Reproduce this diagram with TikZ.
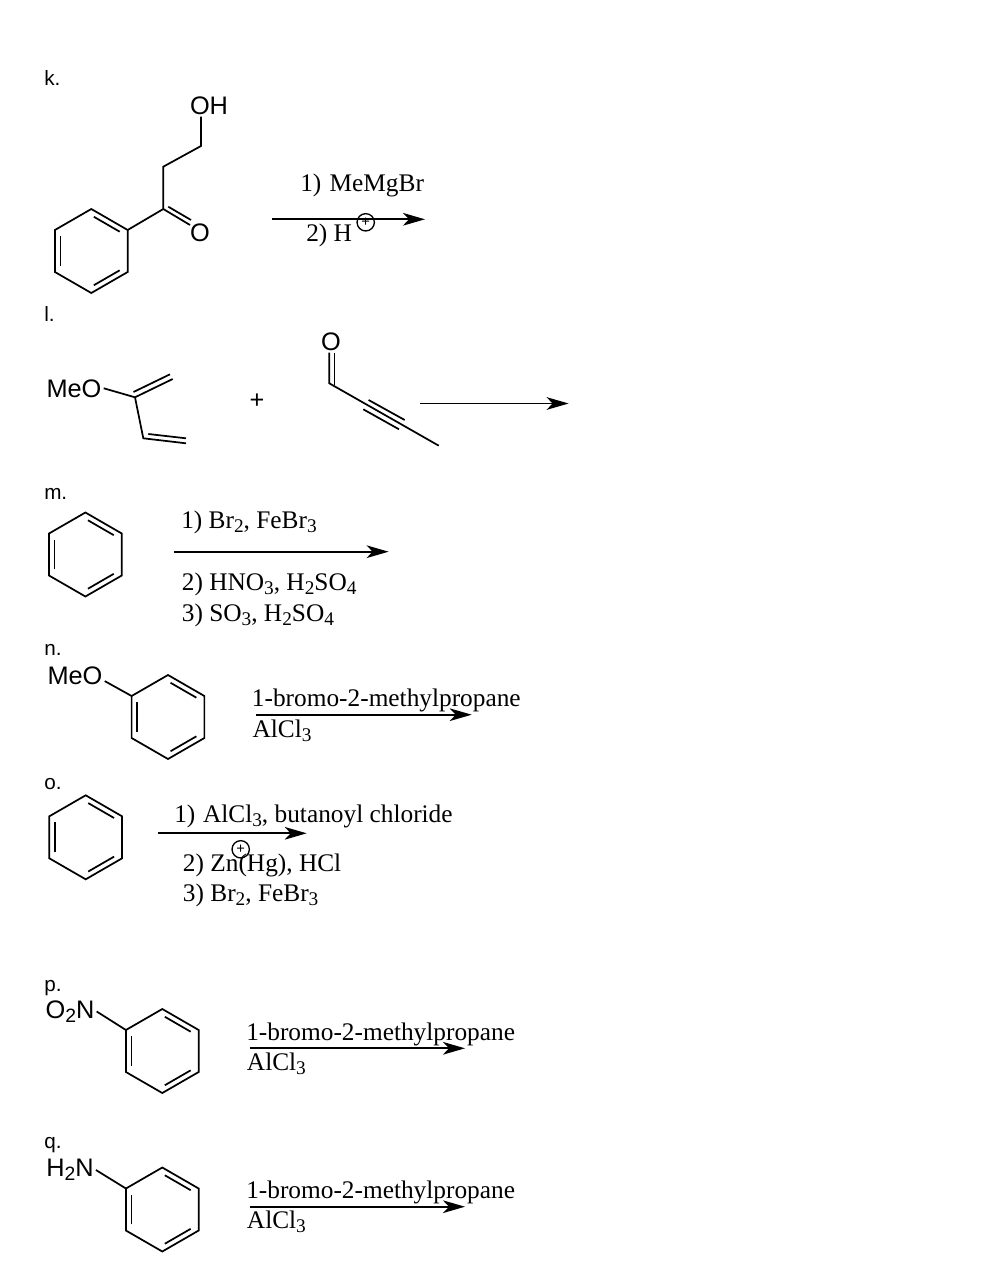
\documentclass[tikz,border=0pt]{standalone}
\usepackage{fontspec}
\setmainfont{Liberation Serif}
\setsansfont{Liberation Sans}
\usetikzlibrary{arrows.meta,calc}
\tikzset{
  bond/.style={line width=1.3pt},
  rxnarrow/.style={line width=1.3pt,-{Stealth[length=16.5pt,width=9.5pt,inset=4.5pt]}},
  reagent/.style={font=\fontsize{19}{22}\selectfont,anchor=base west,inner sep=0pt},
  atom/.style={font=\sffamily\fontsize{19}{22}\selectfont,anchor=base,inner sep=1.5pt},
  tag/.style={font=\sffamily\fontsize{15.5}{18}\selectfont,anchor=base west,inner sep=0pt},
  charge/.style={draw,circle,line width=1pt,minimum size=13pt,inner sep=0pt,font=\sffamily\fontsize{11}{11}\selectfont},
}
\newcommand{\chemsub}[1]{\raisebox{-3pt}{\fontsize{14.5}{14.5}\selectfont #1}}
% ring with its three double bonds, corners (name1)...(name6) clockwise from the top
\newcommand{\benzring}[3]{
\coordinate (#1c) at (#2,#3);
\foreach \n/\a in {1/-90,2/-30,3/30,4/90,5/150,6/210}
  \coordinate (#1\n) at ($(#1c)+(\a:42)$);
\draw[bond] (#11) -- (#12) -- (#13) -- (#14) -- (#15) -- (#16) -- cycle;
\foreach \p/\q in {1/2,3/4,5/6}
  \draw[bond,shorten >=2.2pt,shorten <=2.2pt] ($(#1c)!.85!(#1\p)$) -- ($(#1c)!.85!(#1\q)$);
}
\begin{document}
\begin{tikzpicture}[x=.75pt,y=-.75pt]
\useasboundingbox (0,0) rectangle (991,1288);
% k
\node[tag] (tagk) at (44,85) {k.};
\benzring{kr}{91.3}{251}
\coordinate (kc1) at (163.3,209);
\coordinate (kc2) at (163.3,166.7);
\coordinate (kc3) at (201,146);
\node[atom] (koh) at (209,114) {OH};
\node[atom] (ko) at (200,241) {O};
\coordinate (koa) at (190,225);
\coordinate (kob) at (168.3,206.7);
\coordinate (koc) at (191,220);
\draw[bond] (kr2) -- (kc1) -- (kc2) -- (kc3) -- (koh.south -| kc3);
\draw[bond] (kc1) -- (koa);
\draw[bond] (kob) -- (koc);
\coordinate (ka1) at (272,219.3);
\coordinate (ka2) at (425,219.3);
\draw[rxnarrow] (ka1) -- (ka2);
\node[reagent] (kt1) at (300,191.7) {1)\hspace{1.5pt} MeMgBr};
\node[reagent] (kt2) at (306,241.7) {2) H};
\node[charge] (kplus) at (365.7,222.3) {+};
% l
\node[tag] (tagl) at (44,321) {l.};
\node[atom] (lmeo) at (74,397) {MeO};
\coordinate (lc1) at (135,397.3);
\coordinate (lc2) at (172.7,379);
\coordinate (lc3) at (133.5,392);
\coordinate (lc4) at (170,374.3);
\coordinate (lc5) at (143.3,438.3);
\coordinate (lc6) at (186,443.3);
\coordinate (lc7) at (148.3,434);
\coordinate (lc8) at (186,438.3);
\draw[bond] (lmeo.east) -- (lc1) -- (lc5) -- (lc6);
\draw[bond] (lc1) -- (lc2);
\draw[bond] (lc3) -- (lc4);
\draw[bond] (lc7) -- (lc8);
\node[font=\sffamily\fontsize{19}{22}\selectfont,inner sep=0pt] (lplus) at (257,401) {+};
\node[atom] (lo) at (331,350) {O};
\coordinate (ld1) at (329.3,383.3);
\coordinate (ld2) at (334.5,385);
\coordinate (ld3) at (438.8,445.7);
\coordinate (ld4) at (368.6,400);
\coordinate (ld5) at (404.7,420);
\coordinate (ld6) at (363.3,409.3);
\coordinate (ld7) at (399,429.3);
\draw[bond] (lo.south -| ld1) -- (ld1) -- (ld3);
\draw[bond] (lo.south -| ld2) -- (ld2);
\draw[bond] (ld4) -- (ld5);
\draw[bond] (ld6) -- (ld7);
\coordinate (la1) at (420,403.5);
\coordinate (la2) at (568.6,403.5);
\draw[rxnarrow] (la1) -- (la2);
% m
\node[tag] (tagm) at (44,499) {m.};
\benzring{mr}{85.4}{554.5}
\coordinate (ma1) at (173.9,551.7);
\coordinate (ma2) at (388.6,551.7);
\draw[rxnarrow] (ma1) -- (ma2);
\node[reagent] (mt1) at (181,528) {1) Br\chemsub{2}, FeBr\chemsub{3}};
\node[reagent] (mt2) at (181.6,590) {2) HNO\chemsub{3}, H\chemsub{2}SO\chemsub{4}};
\node[reagent] (mt3) at (181.6,621) {3) SO\chemsub{3}, H\chemsub{2}SO\chemsub{4}};
% n
\node[tag] (tagn) at (44,655) {n.};
\node[atom] (nmeo) at (75,684) {MeO};
\benzring{nr}{168}{717}
\draw[bond] (nmeo.-11) -- (nr6);
\coordinate (na1) at (256,714.7);
\coordinate (na2) at (471.7,714.7);
\draw[rxnarrow] (na1) -- (na2);
\node[reagent] (nt1) at (251.7,706) {1-bromo-2-methylpropane};
\node[reagent] (nt2) at (252.3,737.3) {AlCl\chemsub{3}};
% o
\node[tag] (tago) at (44,789) {o.};
\benzring{or}{85.7}{837.3}
\coordinate (oa1) at (158.3,833.3);
\coordinate (oa2) at (306.7,833.3);
\draw[rxnarrow] (oa1) -- (oa2);
\node[reagent] (ot1) at (174,822.7) {1)\hspace{1pt} AlCl\chemsub{3}, butanoyl chloride};
\node[reagent] (ot2) at (182.7,871) {2) Zn(Hg), HCl};
\node[reagent] (ot3) at (182.7,901.7) {3) Br\chemsub{2}, FeBr\chemsub{3}};
\node[charge] (oplus) at (240.7,849.3) {+};
% p
\node[tag] (tagp) at (44,991) {p.};
\node[atom] (pno) at (70,1018.3) {O\chemsub{2}N};
\benzring{pr}{162.3}{1051}
\draw[bond] (pno.east) -- (pr6);
\coordinate (pa1) at (250,1048.3);
\coordinate (pa2) at (465,1048.3);
\draw[rxnarrow] (pa1) -- (pa2);
\node[reagent] (pt1) at (246,1040) {1-bromo-2-methylpropane};
\node[reagent] (pt2) at (246.7,1070) {AlCl\chemsub{3}};
% q
\node[tag] (tagq) at (44,1148) {q.};
\node[atom] (qnh) at (70,1176.7) {H\chemsub{2}N};
\benzring{qr}{162.3}{1209.5}
\draw[bond] (qnh.east) -- (qr6);
\coordinate (qa1) at (250,1206.7);
\coordinate (qa2) at (465,1206.7);
\draw[rxnarrow] (qa1) -- (qa2);
\node[reagent] (qt1) at (246,1198.3) {1-bromo-2-methylpropane};
\node[reagent] (qt2) at (246.7,1228.3) {AlCl\chemsub{3}};
\end{tikzpicture}
\end{document}
